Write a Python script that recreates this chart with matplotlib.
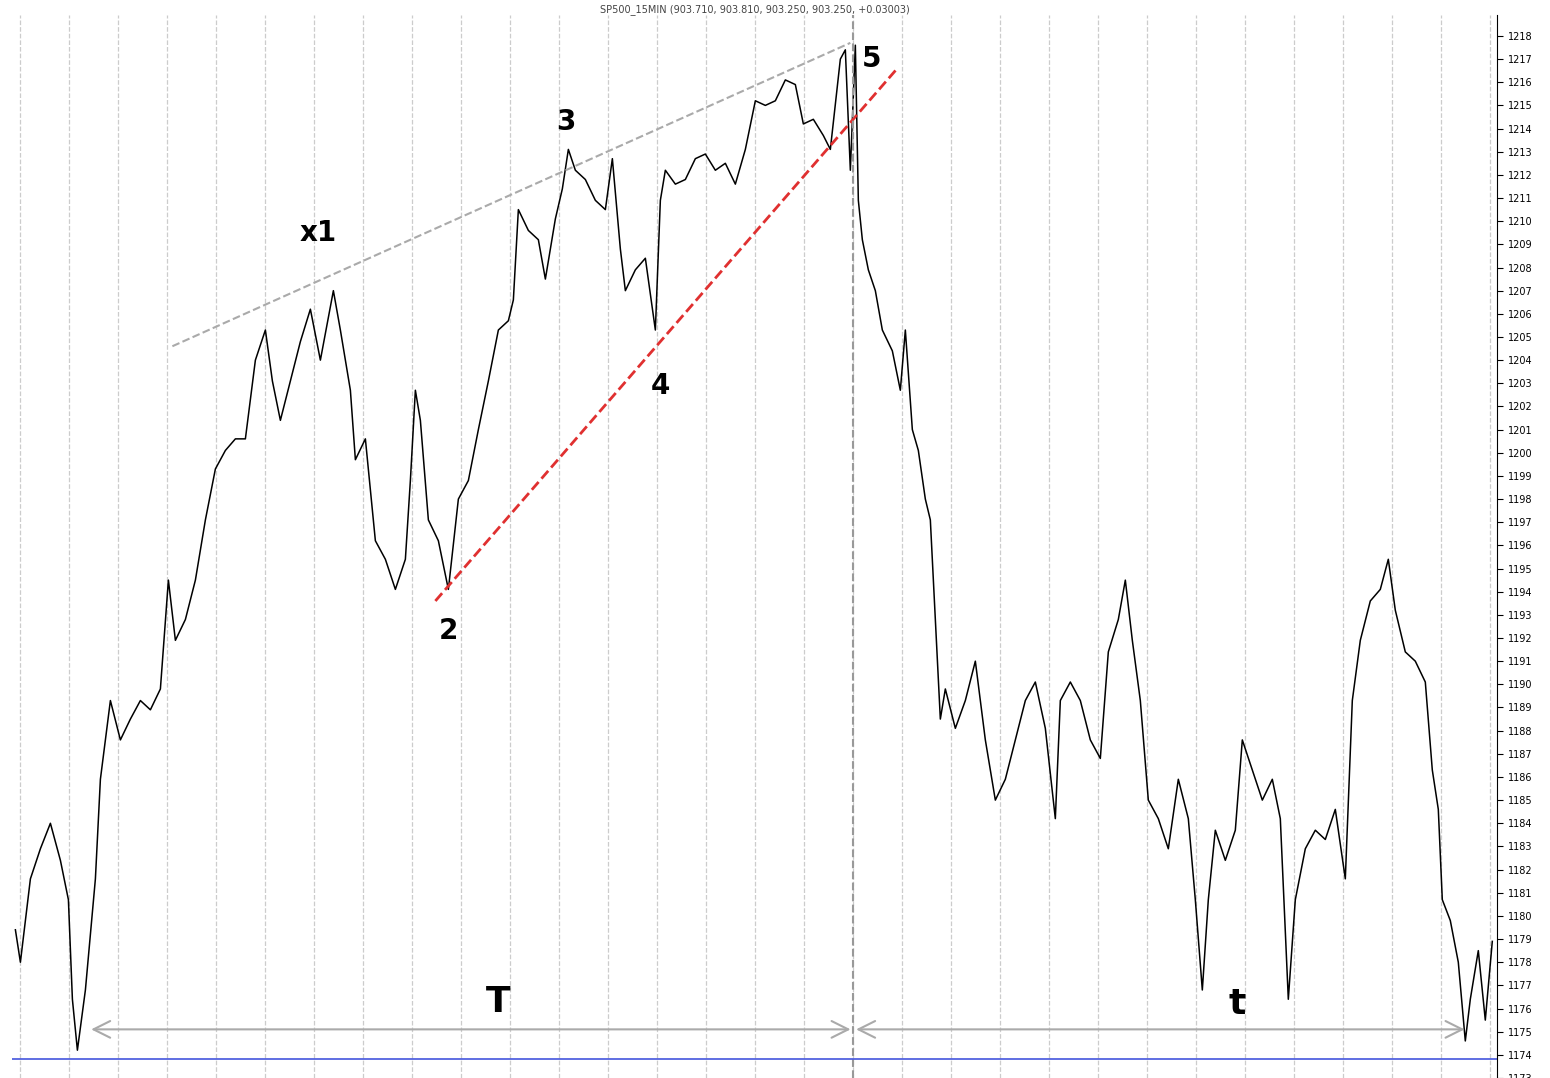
import matplotlib
matplotlib.use('Agg')
import matplotlib.pyplot as plt
import numpy as np

# bar number (15 min bars) and close price
bars = [15,20,30,40,50,60,68,72,77,85,95,100,110,120,130,140,150,160,168,175,185,195,205,215,225,235,245,255,265,272,
        280,290,300,310,320,333,340,350,355,365,375,385,395,405,410,415,420,428,438,448,458,468,478,488,498,508,513,518,528,538,
        545,555,562,568,575,585,595,605,612,620,625,635,645,655,660,665,675,685,695,705,715,725,735,745,755,765,775,785,795,803,
        813,823,830,840,845,850,855,858,862,868,875,882,892,900,905,912,918,925,930,935,940,945,955,965,975,985,995,1005,1015,1025,
        1035,1045,1055,1060,1070,1080,1090,1100,1108,1118,1125,1132,1140,1148,1158,1168,1178,1188,1195,1202,1208,1215,1225,1235,1242,1252,
        1262,1272,1280,1288,1295,1305,1315,1325,1335,1345,1352,1360,1370,1380,1388,1395,1405,1415,1425,1432,1438,1442,1450,1458,1465,1470,
        1478,1485,1492]
close = [1179.4,1178,1181.6,1182.9,1184,1182.4,1180.7,1176.4,1174.2,1176.8,1181.6,1185.9,1189.3,1187.6,1188.5,1189.3,1188.9,1189.8,1194.5,1191.9,
         1192.8,1194.5,1197.1,1199.3,1200.1,1200.6,1200.6,1204,1205.3,1203.1,1201.4,1203.1,1204.8,1206.2,1204,1207,1205.3,1202.7,1199.7,1200.6,
         1196.2,1195.4,1194.1,1195.4,1198.8,1202.7,1201.4,1197.1,1196.2,1194.1,1198,1198.8,1201,1203.1,1205.3,1205.7,1206.6,1210.5,1209.6,1209.2,
         1207.5,1210.1,1211.4,1213.1,1212.2,1211.8,1210.9,1210.5,1212.7,1208.8,1207,1207.9,1208.4,1205.3,1210.9,1212.2,1211.6,1211.8,1212.7,1212.9,
         1212.2,1212.5,1211.6,1213.1,1215.2,1215,1215.2,1216.1,1215.9,1214.2,1214.4,1213.7,1213.1,1217,1217.4,1212.2,1217.6,1210.9,1209.2,1207.9,
         1207,1205.3,1204.4,1202.7,1205.3,1201,1200.1,1198,1197.1,1192.8,1188.5,1189.8,1188.1,1189.3,1191,1187.6,1185,1185.9,1187.6,1189.3,
         1190.1,1188.1,1184.2,1189.3,1190.1,1189.3,1187.6,1186.8,1191.4,1192.8,1194.5,1191.9,1189.3,1185,1184.2,1182.9,1185.9,1184.2,1180.7,1176.8,
         1180.7,1183.7,1182.4,1183.7,1187.6,1186.3,1185,1185.9,1184.2,1176.4,1180.7,1182.9,1183.7,1183.3,1184.6,1181.6,1189.3,1191.9,1193.6,1194.1,
         1195.4,1193.2,1191.4,1191,1190.1,1186.3,1184.6,1180.7,1179.8,1178,1174.6,1176.4,1178.5,1175.5,1178.9]

labels = ['x1', '2', '3', '4', '5', 'T', 't']
label_pos = [(318, 1209.5), (448, 1192.3), (566, 1214.3), (660, 1202.9), (871, 1217.0), (498, 1176.3), (1237, 1176.2)]
top_x = [172, 850]
top_y = [1204.6, 1217.7]
sup_x = [435, 897]
sup_y = [1193.6, 1216.6]
peak_bar = 853
arrow_y = 1175.1
base_y = 1173.8

fig = plt.figure(figsize=(15.5, 10.78), dpi=100)
ax = fig.add_axes([0.008, 0.0, 0.958, 0.986])

ax.plot(bars, close, color='black', lw=1.1)
ax.plot(top_x, top_y, '--', color='#aaaaaa', lw=1.5)
ax.plot(sup_x, sup_y, '--', color='#e03030', lw=2)
ax.axvline(peak_bar, color='#999999', ls='--', lw=1.5)
ax.axhline(base_y, color='#4455dd', lw=1.2)
ax.annotate('', xy=(88, arrow_y), xytext=(peak_bar, arrow_y),
            arrowprops=dict(arrowstyle='<->', color='#aaaaaa', lw=1.5, mutation_scale=30))
ax.annotate('', xy=(peak_bar, arrow_y), xytext=(1467, arrow_y),
            arrowprops=dict(arrowstyle='<->', color='#aaaaaa', lw=1.5, mutation_scale=30))

for lab, (x, y) in zip(labels, label_pos):
    fs = 26 if lab in ('T', 't') else 20
    ax.text(x, y, lab, fontsize=fs, fontweight='bold', ha='center', va='center')

ax.set_title('SP500_15MIN (903.710, 903.810, 903.250, 903.250, +0.03003)', fontsize=7, color='#444444', pad=-12)

ax.set_xlim(12, 1497)
ax.set_ylim(1173.0, 1218.9)
ax.set_xticks(np.arange(20, 1497, 49))
ax.set_yticks(np.arange(1173, 1219, 1))
ax.tick_params(axis='x', length=0, labelbottom=False)
ax.yaxis.tick_right()
ax.tick_params(axis='y', labelsize=7, length=4)
ax.grid(axis='x', ls='--', color='#cccccc', lw=0.9)
for s in ['top', 'left', 'bottom']:
    ax.spines[s].set_visible(False)

fig.savefig('out.png', dpi=100)
